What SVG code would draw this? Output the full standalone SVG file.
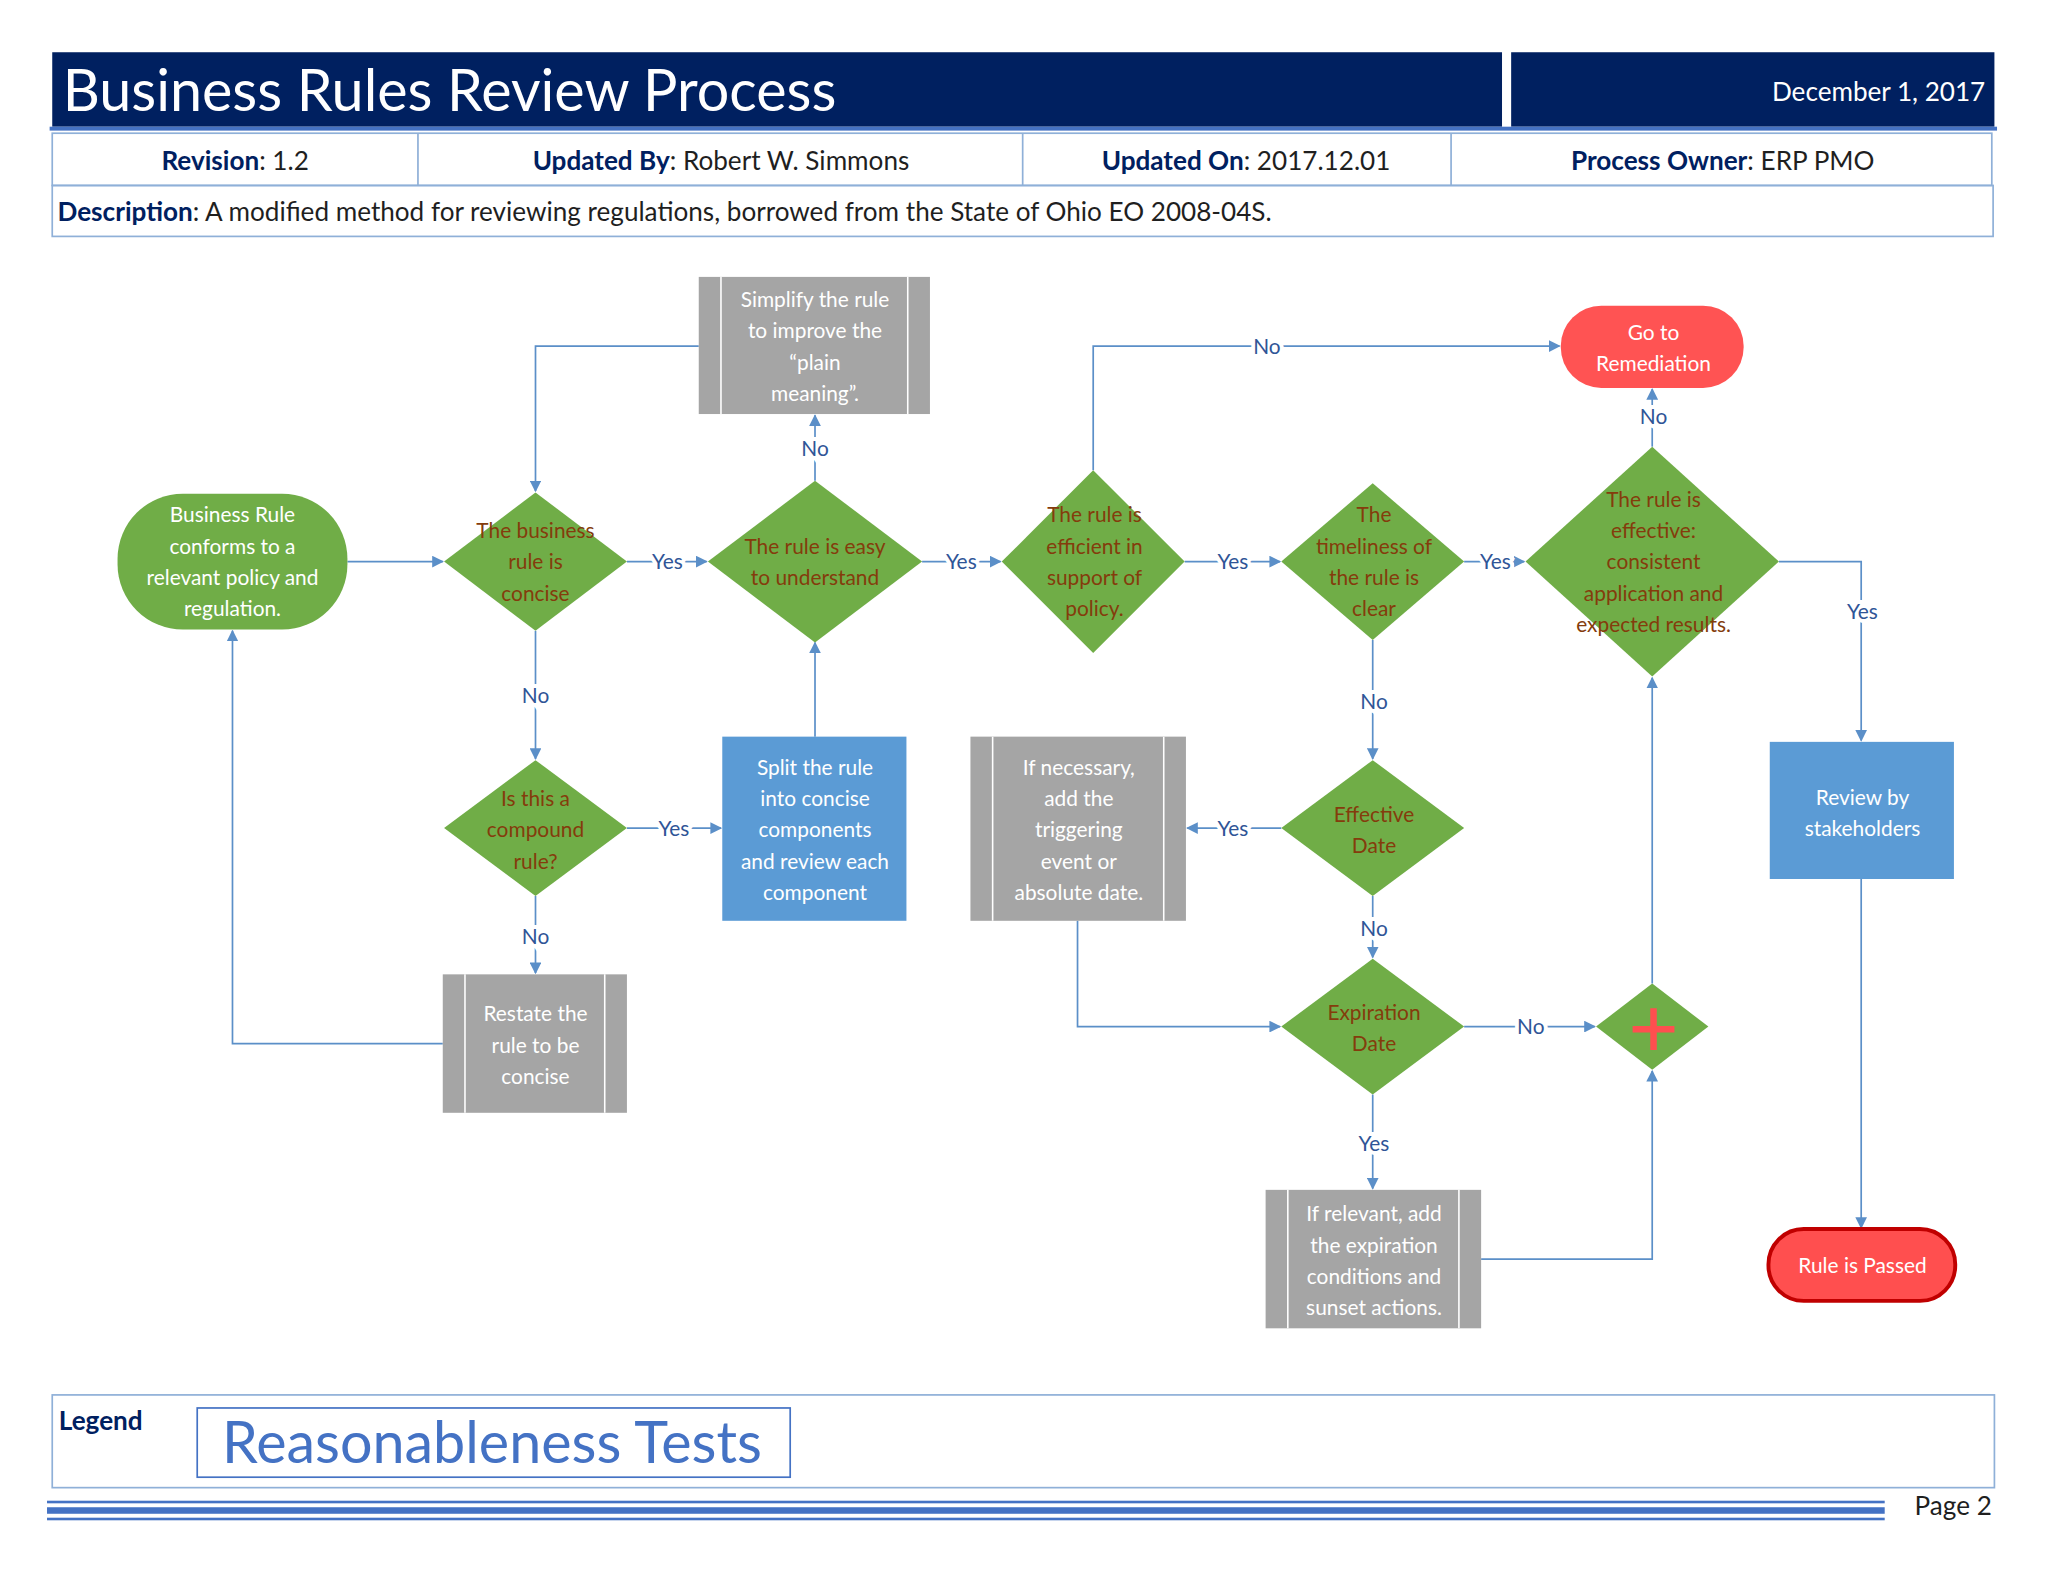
<svg xmlns="http://www.w3.org/2000/svg" width="2048" height="1582" viewBox="0 0 2048 1582">
<defs>
<marker id="ar" viewBox="0 0 10 10" refX="9" refY="5" markerWidth="9" markerHeight="9" markerUnits="userSpaceOnUse" orient="auto"><path d="M0,0 L10,5 L0,10 z" fill="#5b8fc8"/></marker>
<style>
text{font-family:Lato,"Open Sans","Liberation Sans",sans-serif;font-size:16px;text-anchor:middle}
.w{fill:#fff}.r{fill:#843c0c}
.g{fill:#70ad47}.gr{fill:#a5a5a5}.b{fill:#5b9bd5}
.il{stroke:#fff;stroke-width:1.2}
.c path{fill:none;stroke:#5b8fc8;stroke-width:1.3;marker-end:url(#ar)}
.c path.n{marker-end:none}
.lb{fill:#2f5597;stroke:#fff;stroke-width:6;paint-order:stroke}
.hd{font-size:20px;fill:#1f1f1f}
.hd tspan.k{font-weight:bold;fill:#002060}
</style>
</defs>
<rect width="2048" height="1582" fill="#fff"/>
<g transform="scale(1.3061)">
<g id="header">
<rect x="40" y="40" width="1110" height="57" fill="#002060"/>
<rect x="1157" y="40" width="370" height="57" fill="#002060"/>
<rect x="38" y="97" width="1491" height="3" fill="#4472c4"/>
<text x="48" y="85" style="font-size:44px;text-anchor:start" class="w">Business Rules Review Process</text>
<text x="1520" y="77" style="font-size:20px;text-anchor:end" class="w">December 1, 2017</text>
<rect x="40" y="102" width="1485" height="40" fill="none" stroke="#8fb0d8" stroke-width="1.3"/>
<path d="M320,102V142M783,102V142M1111,102V142" stroke="#8fb0d8" stroke-width="1.3"/>
<rect x="40" y="142" width="1486" height="39" fill="none" stroke="#8fb0d8" stroke-width="1.3"/>
<text class="hd" x="180" y="130"><tspan class="k">Revision</tspan>: 1.2</text>
<text class="hd" x="552" y="130"><tspan class="k">Updated By</tspan>: Robert W. Simmons</text>
<text class="hd" x="954" y="130"><tspan class="k">Updated On</tspan>: 2017.12.01</text>
<text class="hd" x="1319" y="130"><tspan class="k">Process Owner</tspan>: ERP PMO</text>
<text class="hd" x="44" y="169" style="text-anchor:start"><tspan class="k">Description</tspan>: A modified method for reviewing regulations, borrowed from the State of Ohio EO 2008-04S.</text>
</g>
<g class="c" id="connectors">
<path d="M266,430H339"/>
<path d="M480,430H541"/>
<path d="M706,430H766"/>
<path d="M907,430H980"/>
<path d="M1121,430H1167"/>
<path d="M1362,430H1425V567"/>
<path d="M1265,342V298"/>
<path d="M837,360V265H1194"/>
<path d="M535,265H410V376"/>
<path d="M624,368V318"/>
<path d="M410,483V581"/>
<path d="M480,634H552"/>
<path d="M410,686V745"/>
<path d="M339,799H178V483"/>
<path d="M624,564V492"/>
<path d="M1051,490V581"/>
<path d="M981,634H909"/>
<path d="M1051,686V733"/>
<path d="M825,705V786H980"/>
<path d="M1121,786H1221"/>
<path d="M1051,838V910"/>
<path d="M1134,964H1265V820"/>
<path d="M1265,753V519"/>
<path d="M1425,673V940"/>
<text class="lb" x="511" y="436">Yes</text>
<text class="lb" x="736" y="436">Yes</text>
<text class="lb" x="944" y="436">Yes</text>
<text class="lb" x="1145" y="436">Yes</text>
<text class="lb" x="1426" y="474">Yes</text>
<text class="lb" x="1266" y="325">No</text>
<text class="lb" x="970" y="271">No</text>
<text class="lb" x="624" y="349">No</text>
<text class="lb" x="410" y="538">No</text>
<text class="lb" x="516" y="640">Yes</text>
<text class="lb" x="410" y="723">No</text>
<text class="lb" x="1052" y="543">No</text>
<text class="lb" x="944" y="640">Yes</text>
<text class="lb" x="1052" y="717">No</text>
<text class="lb" x="1172" y="792">No</text>
<text class="lb" x="1052" y="881">Yes</text>
</g>
<g id="start"><rect x="90" y="378" width="176" height="104" rx="50" class="g"/>
<text class="w"><tspan x="178" y="400">Business Rule</tspan><tspan x="178" y="424">conforms to a</tspan><tspan x="178" y="448">relevant policy and</tspan><tspan x="178" y="472">regulation.</tspan></text></g>
<g id="d1"><path d="M410,377L480,430L410,483L340,430z" class="g"/>
<text class="r"><tspan x="410" y="412">The business</tspan><tspan x="410" y="436">rule is</tspan><tspan x="410" y="460">concise</tspan></text></g>
<g id="d2"><path d="M624,368L706,430L624,492L542,430z" class="g"/>
<text class="r"><tspan x="624" y="424">The rule is easy</tspan><tspan x="624" y="448">to understand</tspan></text></g>
<g id="d3"><path d="M837,360L907,430L837,500L767,430z" class="g"/>
<text class="r"><tspan x="838" y="400">The rule is</tspan><tspan x="838" y="424">efficient in</tspan><tspan x="838" y="448">support of</tspan><tspan x="838" y="472">policy.</tspan></text></g>
<g id="d4"><path d="M1051,370L1121,430L1051,490L981,430z" class="g"/>
<text class="r"><tspan x="1052" y="400">The</tspan><tspan x="1052" y="424">timeliness of</tspan><tspan x="1052" y="448">the rule is</tspan><tspan x="1052" y="472">clear</tspan></text></g>
<g id="d5"><path d="M1265,342L1362,430L1265,518L1168,430z" class="g"/>
<text class="r"><tspan x="1266" y="388">The rule is</tspan><tspan x="1266" y="412">effective:</tspan><tspan x="1266" y="436">consistent</tspan><tspan x="1266" y="460">application and</tspan><tspan x="1266" y="484">expected results.</tspan></text></g>
<g id="remediation"><rect x="1195" y="234" width="140" height="63" rx="31" fill="#ff5353"/>
<text class="w"><tspan x="1266" y="260">Go to</tspan><tspan x="1266" y="284">Remediation</tspan></text></g>
<g id="simplify"><rect x="535" y="212" width="177" height="105" class="gr"/><path d="M552,212V317M695,212V317" class="il"/>
<text class="w"><tspan x="624" y="235">Simplify the rule</tspan><tspan x="624" y="259">to improve the</tspan><tspan x="624" y="283">“plain</tspan><tspan x="624" y="307">meaning”.</tspan></text></g>
<g id="d6"><path d="M410,582L480,634L410,686L340,634z" class="g"/>
<text class="r"><tspan x="410" y="617">Is this a</tspan><tspan x="410" y="641">compound</tspan><tspan x="410" y="665">rule?</tspan></text></g>
<g id="split"><rect x="553" y="564" width="141" height="141" class="b"/>
<text class="w"><tspan x="624" y="593">Split the rule</tspan><tspan x="624" y="617">into concise</tspan><tspan x="624" y="641">components</tspan><tspan x="624" y="665">and review each</tspan><tspan x="624" y="689">component</tspan></text></g>
<g id="restate"><rect x="339" y="746" width="141" height="106" class="gr"/><path d="M356,746V852M463,746V852" class="il"/>
<text class="w"><tspan x="410" y="782">Restate the</tspan><tspan x="410" y="806">rule to be</tspan><tspan x="410" y="830">concise</tspan></text></g>
<g id="necessary"><rect x="743" y="564" width="165" height="141" class="gr"/><path d="M760,564V705M891,564V705" class="il"/>
<text class="w"><tspan x="826" y="593">If necessary,</tspan><tspan x="826" y="617">add the</tspan><tspan x="826" y="641">triggering</tspan><tspan x="826" y="665">event or</tspan><tspan x="826" y="689">absolute date.</tspan></text></g>
<g id="effdate"><path d="M1051,582L1121,634L1051,686L981,634z" class="g"/>
<text class="r"><tspan x="1052" y="629">Effective</tspan><tspan x="1052" y="653">Date</tspan></text></g>
<g id="expdate"><path d="M1051,734L1121,786L1051,838L981,786z" class="g"/>
<text class="r"><tspan x="1052" y="781">Expiration</tspan><tspan x="1052" y="805">Date</tspan></text></g>
<g id="plus"><path d="M1265,753L1308,786L1265,819L1222,786z" class="g"/>
<path d="M1250,788H1282M1266,772V804" stroke="#ff4f4f" stroke-width="5"/></g>
<g id="relevant"><rect x="969" y="911" width="165" height="106" class="gr"/><path d="M986,911V1017M1117,911V1017" class="il"/>
<text class="w"><tspan x="1052" y="935">If relevant, add</tspan><tspan x="1052" y="959">the expiration</tspan><tspan x="1052" y="983">conditions and</tspan><tspan x="1052" y="1007">sunset actions.</tspan></text></g>
<g id="review"><rect x="1355" y="568" width="141" height="105" class="b"/>
<text class="w"><tspan x="1426" y="616">Review by</tspan><tspan x="1426" y="640">stakeholders</tspan></text></g>
<g id="passed"><rect x="1354" y="941" width="143" height="55" rx="27" fill="#ff4f4f" stroke="#c00000" stroke-width="3"/>
<text class="w" x="1426" y="975">Rule is Passed</text></g>
<g id="legend">
<rect x="40" y="1068" width="1487" height="71" fill="none" stroke="#8fb0d8" stroke-width="1.3"/>
<text x="45" y="1095" style="text-anchor:start;font-size:20px;font-weight:bold;fill:#002060">Legend</text>
<rect x="151" y="1078" width="454" height="53" fill="none" stroke="#4472c4" stroke-width="1.3"/>
<text x="170" y="1120" style="text-anchor:start;font-size:44px;fill:#4472c4">Reasonableness Tests</text>
<rect x="36" y="1149" width="1407" height="2" fill="#4472c4"/>
<rect x="36" y="1154" width="1407" height="5" fill="#4472c4"/>
<rect x="36" y="1162" width="1407" height="2" fill="#4472c4"/>
<text x="1525" y="1160" style="text-anchor:end;font-size:20px;fill:#1f1f1f">Page 2</text>
</g>
</g>
</svg>
